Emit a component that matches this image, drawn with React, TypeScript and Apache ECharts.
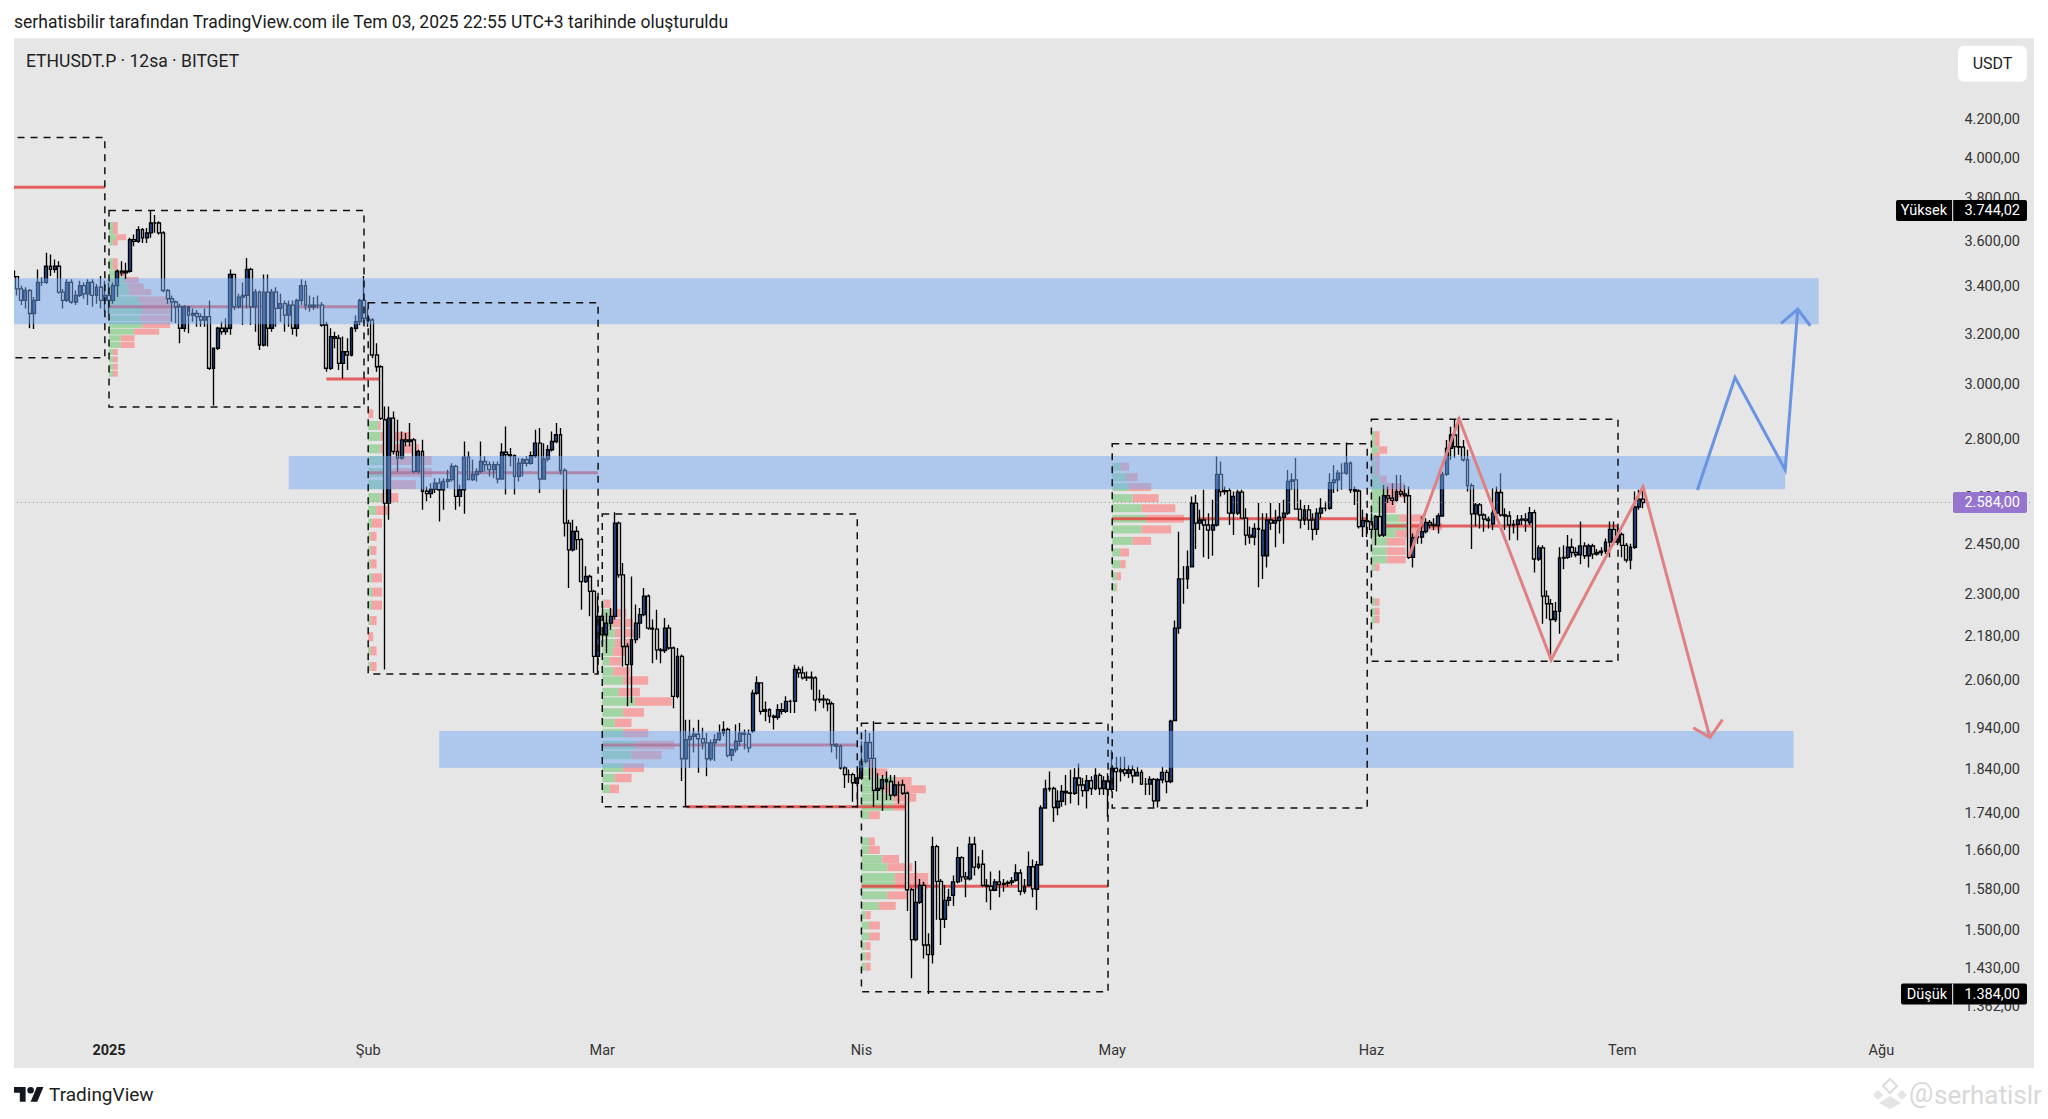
import React, { useEffect, useRef } from "react";
import * as echarts from "echarts";

// [open, close, low, high] of each 12h candle, by month
const candlesDec: number[][] = [
[3466,3442,3431,3555],[3442,3389,3361,3445],[3389,3340,3320,3403],[3340,3382,3306,3396],[3382,3285,3224,3389],[3285,3340,3221,3354],[3340,3417,3340,3474],[3417,3417,3403,3438],[3417,3488,3410,3548],[3488,3474,3445,3540],[3474,3488,3459,3518],[3488,3375,3368,3510],[3375,3340,3306,3389],[3340,3417,3333,3431],[3417,3333,3326,3431],[3333,3361,3320,3382],[3361,3403,3354,3424],[3403,3368,3347,3417],[3368,3417,3320,3431],[3417,3361,3313,3431],[3361,3396,3326,3410],[3396,3340,3306,3445],[3340,3361,3292,3424],
];
const candlesJan: number[][] = [
[3361,3340,3285,3417],[3340,3403,3326,3417],[3403,3466,3354,3474],[3466,3459,3445,3510],[3459,3466,3431,3503],[3466,3608,3459,3616],[3608,3600,3578,3631],[3600,3654,3593,3670],[3654,3616,3593,3662],[3616,3639,3593,3662],[3639,3685,3616,3744],[3685,3685,3639,3722],[3685,3639,3631,3693],[3639,3382,3375,3647],[3382,3347,3326,3389],[3347,3333,3251,3361],[3333,3313,3244,3340],[3313,3224,3163,3326],[3224,3313,3210,3320],[3313,3278,3203,3292],[3278,3285,3251,3306],[3285,3272,3230,3299],[3272,3258,3230,3285],[3258,3272,3230,3306],[3272,3064,3057,3340],[3064,3143,2923,3143],[3143,3224,3136,3230],[3224,3210,3197,3251],[3210,3224,3197,3265],[3224,3452,3197,3474],[3452,3313,3299,3452],[3313,3354,3306,3368],[3354,3361,3237,3417],[3361,3474,3306,3525],[3474,3313,3237,3481],[3313,3375,3210,3389],[3375,3156,3136,3382],[3156,3375,3150,3452],[3375,3224,3150,3452],[3224,3375,3210,3389],[3375,3306,3230,3396],[3306,3326,3251,3368],[3326,3278,3210,3340],[3278,3320,3230,3340],[3320,3224,3197,3340],[3224,3340,3190,3347],[3340,3403,3320,3431],[3403,3320,3299,3424],[3320,3313,3292,3361],[3313,3320,3299,3354],[3320,3320,3306,3361],[3320,3237,3230,3333],[3237,3064,3051,3251],[3064,3190,3057,3224],[3190,3183,3143,3210],[3183,3083,3057,3197],[3083,3129,3025,3190],[3129,3116,3057,3183],[3116,3224,3110,3230],[3224,3251,3210,3278],[3251,3340,3237,3347],[3340,3265,3244,3445],
];
const candlesFeb: number[][] = [
[3265,3258,3230,3306],[3258,3116,3103,3265],[3116,3070,3051,3163],[3070,2875,2869,3076],[2870,2582,2090,2919],[2582,2876,2528,2919],[2876,2757,2746,2900],[2757,2734,2688,2870],[2734,2798,2728,2828],[2798,2792,2775,2822],[2792,2798,2775,2858],[2798,2688,2682,2804],[2688,2757,2682,2763],[2757,2621,2560,2798],[2621,2613,2588,2637],[2613,2628,2599,2648],[2628,2648,2615,2665],[2648,2626,2522,2665],[2626,2654,2560,2665],[2654,2660,2632,2694],[2660,2705,2654,2716],[2705,2604,2560,2711],[2604,2626,2571,2643],[2626,2737,2547,2792],[2737,2660,2660,2757],[2660,2677,2655,2728],[2677,2688,2654,2699],[2688,2722,2682,2792],[2722,2711,2688,2740],[2711,2694,2671,2722],[2694,2711,2665,2722],[2711,2662,2648,2722],[2662,2754,2660,2786],[2754,2746,2610,2846],[2746,2742,2705,2769],[2742,2671,2610,2746],[2671,2716,2654,2734],[2716,2728,2671,2734],[2728,2716,2705,2740],[2716,2742,2711,2757],[2742,2786,2734,2834],[2786,2662,2615,2840],[2662,2730,2660,2786],[2730,2763,2722,2780],[2763,2792,2757,2828],[2792,2816,2786,2858],[2816,2691,2677,2840],[2691,2517,2475,2699],[2517,2433,2318,2528],[2433,2491,2428,2528],[2491,2465,2433,2507],[2465,2337,2255,2470],[2337,2352,2333,2383],[2352,2308,2236,2357],[2308,2125,2081,2313],[2125,2236,2081,2294],
];
const candlesMar: number[][] = [
[2236,2184,2157,2274],[2184,2217,2134,2246],[2217,2236,2198,2260],[2236,2517,2227,2552],[2517,2357,2348,2522],[2357,2152,2098,2393],[2152,2103,1995,2161],[2103,2171,2003,2352],[2171,2217,2161,2270],[2217,2241,2175,2260],[2241,2294,2236,2318],[2294,2203,2198,2299],[2203,2200,2107,2227],[2200,2143,2116,2255],[2143,2141,2107,2148],[2141,2203,2134,2231],[2203,2148,2143,2212],[2148,2020,1990,2152],[2020,2125,2015,2148],[2125,1866,1814,2130],[1866,1912,1757,1961],[1912,1920,1845,1961],[1920,1925,1881,1941],[1925,1914,1833,1961],[1914,1904,1888,1941],[1904,1866,1825,1928],[1866,1904,1861,1912],[1904,1912,1861,1925],[1912,1928,1908,1949],[1928,1937,1920,1957],[1937,1874,1869,1941],[1874,1888,1861,1892],[1888,1908,1881,1949],[1908,1928,1896,1953],[1928,1925,1888,1937],[1925,1892,1881,1937],[1933,2028,1928,2037],[2028,2055,2024,2072],[2055,1982,1974,2055],[1982,1986,1957,2007],[1986,1970,1953,1990],[1970,1967,1937,1974],[1967,1986,1961,2000],[1986,1982,1974,2003],[1982,2007,1978,2020],[2007,2007,1978,2011],[2007,2090,1978,2103],[2090,2081,2068,2098],[2081,2068,2064,2098],[2068,2070,2060,2085],[2070,2068,2037,2085],[2068,2011,1982,2072],[2011,2013,2003,2037],[2013,2011,1990,2024],[2011,2001,1982,2015],[2001,1900,1881,2007],[1900,1896,1865,1904],[1896,1845,1841,1900],[1845,1829,1798,1849],[1829,1829,1810,1841],[1829,1810,1767,1833],[1809,1821,1754,1832],
];
const candlesApr: number[][] = [
[1821,1860,1817,1908],[1860,1905,1855,1936],[1905,1867,1817,1928],[1867,1793,1756,1957],[1793,1797,1771,1832],[1797,1817,1747,1828],[1817,1813,1771,1836],[1813,1782,1771,1828],[1782,1805,1778,1828],[1805,1805,1763,1813],[1805,1786,1782,1817],[1786,1580,1538,1790],[1580,1483,1412,1584],[1483,1555,1480,1639],[1555,1589,1552,1602],[1589,1473,1448,1596],[1473,1455,1384,1495],[1455,1669,1439,1690],[1669,1597,1521,1673],[1597,1522,1473,1602],[1522,1559,1505,1589],[1559,1565,1548,1582],[1569,1596,1548,1609],[1596,1646,1593,1669],[1646,1606,1596,1649],[1606,1602,1565,1616],[1602,1674,1599,1690],[1674,1626,1609,1690],[1626,1632,1622,1649],[1632,1589,1586,1662],[1589,1587,1555,1602],[1587,1579,1540,1617],[1579,1596,1577,1602],[1596,1591,1565,1619],[1591,1593,1576,1602],[1593,1595,1586,1599],[1595,1598,1589,1606],[1599,1614,1596,1632],[1614,1577,1569,1622],[1577,1586,1572,1602],[1589,1627,1586,1659],[1627,1582,1565,1642],[1581,1631,1540,1639],[1631,1753,1629,1759],[1753,1796,1752,1817],[1796,1797,1790,1836],[1797,1754,1722,1801],[1754,1768,1737,1793],[1768,1790,1756,1805],[1790,1787,1759,1828],[1787,1786,1763,1840],[1786,1821,1782,1844],[1821,1805,1759,1855],[1805,1792,1778,1821],[1792,1815,1752,1828],[1815,1797,1782,1825],[1797,1827,1793,1844],[1827,1797,1782,1832],[1797,1814,1782,1825],[1814,1795,1733,1832],
];
const candlesMay: number[][] = [
[1795,1844,1790,1887],[1844,1836,1790,1871],[1836,1840,1813,1871],[1840,1832,1825,1871],[1832,1840,1821,1851],[1840,1826,1809,1851],[1826,1834,1825,1847],[1834,1807,1805,1840],[1807,1807,1782,1821],[1807,1818,1782,1825],[1818,1769,1754,1821],[1769,1817,1754,1821],[1817,1834,1809,1847],[1834,1813,1786,1840],[1813,1957,1809,1961],[1959,2203,1957,2224],[2203,2345,2187,2490],[2345,2345,2272,2384],[2345,2381,2315,2431],[2381,2582,2379,2604],[2582,2517,2436,2609],[2517,2527,2495,2560],[2527,2511,2410,2626],[2511,2495,2405,2549],[2495,2511,2415,2593],[2511,2678,2506,2739],[2678,2620,2604,2722],[2620,2623,2609,2637],[2623,2549,2511,2631],[2549,2604,2479,2620],[2549,2618,2543,2626],[2618,2533,2533,2626],[2533,2479,2447,2565],[2479,2473,2452,2506],[2473,2500,2447,2517],[2500,2497,2320,2582],[2415,2495,2345,2549],[2415,2527,2379,2549],[2527,2517,2495,2582],[2517,2525,2441,2560],[2525,2536,2484,2582],[2536,2549,2452,2593],[2549,2654,2543,2693],[2654,2659,2626,2682],[2659,2562,2560,2734],[2562,2527,2500,2593],[2527,2560,2511,2576],[2560,2527,2495,2576],[2527,2497,2463,2549],[2497,2549,2479,2565],[2549,2565,2533,2598],[2565,2565,2555,2587],[2565,2650,2560,2682],[2650,2659,2615,2710],[2659,2682,2620,2693],[2682,2682,2626,2716],[2682,2716,2676,2788],[2716,2626,2615,2722],[2626,2622,2576,2637],[2622,2506,2500,2628],[2506,2525,2473,2560],[2525,2522,2473,2549],
];
const candlesJun: number[][] = [
[2522,2497,2484,2549],[2497,2538,2447,2543],[2538,2479,2473,2604],[2479,2606,2473,2642],[2606,2598,2582,2637],[2598,2591,2576,2648],[2591,2620,2587,2676],[2620,2612,2604,2676],[2612,2606,2582,2642],[2606,2410,2405,2637],[2410,2471,2379,2484],[2471,2473,2452,2495],[2473,2490,2452,2538],[2490,2519,2484,2533],[2519,2511,2500,2527],[2511,2509,2495,2533],[2509,2540,2484,2549],[2540,2678,2538,2687],[2678,2768,2672,2797],[2768,2815,2728,2845],[2815,2774,2734,2869],[2774,2772,2745,2879],[2772,2728,2722,2797],[2728,2640,2620,2763],[2640,2547,2436,2648],[2547,2576,2506,2582],[2576,2543,2500,2582],[2543,2530,2490,2549],[2530,2525,2500,2538],[2515,2549,2495,2631],[2549,2617,2543,2637],[2617,2543,2538,2682],[2543,2540,2495,2565],[2540,2511,2463,2555],[2511,2513,2484,2527],[2513,2527,2463,2543],[2527,2530,2511,2543],[2530,2525,2490,2549],[2519,2551,2511,2569],[2551,2405,2364,2560],[2405,2439,2399,2447],[2439,2294,2215,2447],[2294,2272,2229,2311],[2272,2227,2116,2286],[2227,2250,2220,2277],[2250,2408,2187,2441],[2408,2410,2374,2447],[2410,2441,2405,2479],[2441,2425,2410,2468],[2425,2418,2410,2441],[2418,2445,2389,2522],[2445,2415,2405,2457],[2415,2445,2379,2452],[2445,2420,2405,2452],[2420,2425,2415,2436],[2425,2429,2415,2441],[2429,2457,2420,2468],[2457,2497,2410,2522],[2497,2457,2447,2522],[2457,2481,2447,2506],
];
const candlesJul: number[][] = [
[2481,2447,2410,2487],[2447,2402,2394,2454],[2402,2441,2374,2452],[2441,2569,2436,2620],[2569,2595,2560,2626],[2595,2584,2565,2637],
];

const barCount = 484;
const yTicks = [4200,4000,3800,3600,3400,3200,3000,2800,2600,2450,2300,2180,2060,1940,1840,1740,1660,1580,1500,1430,1362];
const monthLabels: Record<string,string> = {"2025-01":"2025","2025-02":"Şub","2025-03":"Mar","2025-04":"Nis","2025-05":"May","2025-06":"Haz","2025-07":"Tem","2025-08":"Ağu"};
const lastPrice = 2584;
const extremes: [string, number][] = [["Yüksek",3744.02],["Düşük",1384]];

// supply / demand zones: [first bar, last bar, upper price, lower price]
const zones: number[][] = [[0,432,3435,3240],[66,424,2741,2628],[102,426,1933,1845]];
// dashed session boxes: [first bar, last bar, upper price, lower price]
const boxes: number[][] = [[-2,22,4107,3105],[23,84,3744,2917],[85,140,3330,2078],[141,202,2546,1756],[203,262,1952,1388],[263,324,2784,1753],[325,384,2872,2112]];
// point of control lines: [first bar, last bar, price]
const pocLines: number[][] = [[0,22,3856],[23,84,3313],[75,88,3023],[85,140,2683],[141,202,1899],[161,214,1756],[203,262,1587],[263,324,2531],[325,384,2508]];
// drawn paths: [bar, price]
const redPath: number[][] = [[334,2412],[346,2873],[368,2116],[390,2636],[406,1917]];
const redHead: number[][] = [[402,1941],[406,1917],[409,1961]];
const bluePath: number[][] = [[403,2625],[412,3028],[424,2693],[427,3303]];
const blueHead: number[][] = [[423,3244],[427,3303],[430,3234]];

// volume profile bins: [price, buy volume, sell volume]
const profile1: number[][] = [[3676,.95,1.14],[3648,.95,1.14],[3619,1.7,2.4],[3595,.95,1.14],[3510,.95,1.14],[3485,.95,1.14],[3456,1.7,2.4],[3428,3.8,3.3],[3400,4.5,3.8],[3375,4.7,5.4],[3344,6.9,6.8],[3320,7.9,6.8],[3295,7.9,6.8],[3265,7.3,7.4],[3237,8,6.6],[3210,6,6],[3183,2.8,3.3],[3156,2.8,3.3],[3128,.95,1.14],[3099,.95,1.14],[3070,.95,1.14],[3043,.95,1.14]];
const profile2: number[][] = [[2892,0,1.2],[2849,2.4,.6],[2810,2.9,7.3],[2766,2.9,9.3],[2725,3.8,11.4],[2684,3.8,11.5],[2643,3.8,7.6],[2600,3,4.2],[2558,1.9,3.2],[2517,.9,2.4],[2475,.6,1.4],[2431,.6,1.4],[2390,.6,1.4],[2348,.9,2.4],[2306,.9,2.4],[2268,.9,2.4],[2224,.6,1.4],[2179,0,1.2],[2140,.6,1.4],[2098,.6,1.4]];
const profile3: number[][] = [[2272,.5,1.5],[2245,2.2,3.6],[2217,2.6,4.8],[2189,3,4.8],[2161,3,4],[2138,2.6,3.2],[2112,1.8,2.8],[2085,2.6,4],[2061,5,6],[2031,4,5],[2007,7.8,8.8],[1979,5,5],[1953,3,4],[1928,5,6],[1899,8,9.2],[1875,7,7.2],[1845,5,5],[1821,3,4],[1796,1.8,2.2]];
const profile4: number[][] = [[1855,1.5,1.5],[1834,2.2,4],[1814,8,4],[1795,5.4,10],[1776,7.7,5.4],[1756,7.7,2.8],[1737,1.8,2.6],[1680,1.8,1.4],[1662,1.8,2.6],[1643,5,4],[1626,6.2,6],[1606,8,8],[1589,8,8],[1569,6.2,4.8],[1548,4.2,4],[1530,1,1.2],[1510,1.8,2.6],[1489,1.8,2.6],[1471,1,1.2],[1452,1,1.2],[1433,1,1.2]];
const profile5: number[][] = [[2704,1.9,2.1],[2668,3.3,2.8],[2635,4,5.3],[2598,4.9,6.2],[2565,7,8.1],[2531,8.1,9.1],[2497,7,7.1],[2461,4.9,4.4],[2425,1.9,2.1],[2389,1.9,1.3],[2353,1,1.1],[2320,1,.2]];
const profile6: number[][] = [[2815,.85,1.1],[2789,.85,1.1],[2762,1.7,2.1],[2739,.7,1.3],[2712,.85,1.1],[2686,.85,1.1],[2661,2,1.7],[2636,3.3,4.7],[2612,3.7,4.3],[2587,2.8,3],[2562,2.8,3],[2533,6.7,5.6],[2506,8.2,8.7],[2483,5.8,5.1],[2458,3.7,4.5],[2429,3.7,4.5],[2403,3.7,4.5],[2380,.85,1.1],[2277,.85,1.1],[2250,.85,1.1],[2227,.85,1.1]];
// first bar and bar thickness of each profile
const profileStarts: number[][] = [[23,6],[85,9],[141,8.5],[203,8],[263,8],[325,7.5]];

const FONT = "Roboto, sans-serif";
const priceText = (v: number) => {
  const [a, b] = v.toFixed(2).split(".");
  return a.replace(/\B(?=(\d{3})+$)/g, ".") + "," + b;
};

const logoPath = "M14 22H7V11H0V4h14v18zM28 22h-8l7.5-18h8L28 22zM24 8a4 4 0 1 1-8 0 4 4 0 0 1 8 0z";

export default function App() {
  const ref = useRef<HTMLDivElement>(null);
  useEffect(() => {
    document.body.style.margin = "0";
    document.body.style.background = "#fff";
    (echarts.graphic as any).registerShape("tvlogo", (echarts.graphic as any).extendPath(logoPath, {}));
    const chart = echarts.init(ref.current!, undefined, { renderer: "svg" });
    const candles = [...candlesDec, ...candlesJan, ...candlesFeb, ...candlesMar, ...candlesApr, ...candlesMay, ...candlesJun, ...candlesJul];
    const startMs = Date.UTC(2024, 11, 20, 12);
    const categories: string[] = [];
    for (let i = 0; i < barCount; i++) categories.push(new Date(startMs + i * 43200000).toISOString().slice(0, 13));
    const isMonthStart = (s: string) => s.endsWith("-01T00");
    const profileRows: number[][] = [];
    [profile1, profile2, profile3, profile4, profile5, profile6].forEach((bins, k) => {
      bins.forEach((b) => profileRows.push([profileStarts[k][0], b[0], b[1], b[2], profileStarts[k][1]]));
    });

    const lineSeries = (name: string, pts: number[][], color: string, width: number, z: number, dash?: number[]) => ({
      type: "custom", name, z, silent: true, clip: true, data: pts, encode: { x: 0, y: 1 },
      renderItem: (_p: any, api: any) => {
        if (_p.dataIndex !== 0) return null;
        const points = pts.map((q) => api.coord(q));
        return { type: "polyline", shape: { points }, style: { stroke: color, lineWidth: width, fill: "none", lineDash: dash, lineJoin: "miter" } };
      },
    });

    const option: any = {
      animation: false,
      backgroundColor: "#ffffff",
      grid: { show: true, left: 10.8, width: 4.18 * barCount, top: 38.3, height: 1029.7, backgroundColor: "#e6e6e6", borderWidth: 0 },
      xAxis: {
        type: "category", data: categories, boundaryGap: true,
        axisLine: { show: false }, axisTick: { show: false }, splitLine: { show: false },
        axisLabel: {
          inside: true, margin: 18, color: "#333", fontFamily: FONT, fontSize: 14.5, verticalAlign: "middle",
          interval: (_i: number, v: string) => isMonthStart(v),
          formatter: (v: string) => {
            const l = monthLabels[v.slice(0, 7)] || "";
            return l === "2025" ? "{b|2025}" : l;
          },
          rich: { b: { fontWeight: "bold", fontFamily: FONT, fontSize: 14.5, color: "#222" } },
        },
      },
      yAxis: {
        type: "log", logBase: 10, min: 1260, max: 4659, position: "right",
        axisLine: { show: false }, axisTick: { show: false }, splitLine: { show: false }, minorSplitLine: { show: false }, axisLabel: { show: false },
      },
      series: [
        {
          type: "custom", name: "profile", z: 1, silent: true, clip: true, data: profileRows, encode: { x: 0, y: 1 },
          renderItem: (_p: any, api: any) => {
            const pt = api.coord([api.value(0), api.value(1)]);
            const bw = api.size([1, 0])[0];
            const h = api.value(4);
            const g = api.value(2) * bw, s = api.value(3) * bw;
            return {
              type: "group",
              children: [
                { type: "rect", shape: { x: pt[0], y: pt[1] - h / 2, width: g, height: h }, style: { fill: "#a2d4a4" } },
                { type: "rect", shape: { x: pt[0] + g, y: pt[1] - h / 2, width: s, height: h }, style: { fill: "#f4a4a4" } },
              ],
            };
          },
        },
        {
          type: "custom", name: "poc", z: 2, silent: true, clip: true, data: pocLines, encode: { x: [0, 1], y: 2 },
          renderItem: (_p: any, api: any) => {
            const a = api.coord([api.value(0), api.value(2)]);
            const b = api.coord([api.value(1), api.value(2)]);
            return { type: "line", shape: { x1: a[0], y1: a[1], x2: b[0], y2: b[1] }, style: { stroke: "rgba(226,70,70,0.85)", lineWidth: 3 } };
          },
        },
        {
          type: "candlestick", name: "ETHUSDT.P", z: 3, silent: true, data: candles, barWidth: 3.4,
          itemStyle: { color: "#23498f", color0: "#e2e2e2", borderColor: "#000", borderColor0: "#000", borderWidth: 1.35 },
        },
        {
          type: "custom", name: "zones", z: 4, silent: true, clip: true, data: zones, encode: { x: [0, 1], y: [2, 3] },
          renderItem: (_p: any, api: any) => {
            const a = api.coord([api.value(0), api.value(2)]);
            const b = api.coord([api.value(1), api.value(3)]);
            return { type: "rect", shape: { x: a[0], y: a[1], width: b[0] - a[0], height: b[1] - a[1] }, style: { fill: "rgba(116,170,242,0.5)" } };
          },
        },
        {
          type: "custom", name: "boxes", z: 5, silent: true, clip: true, data: boxes, encode: { x: [0, 1], y: [2, 3] },
          renderItem: (_p: any, api: any) => {
            const a = api.coord([api.value(0), api.value(2)]);
            const b = api.coord([api.value(1), api.value(3)]);
            return { type: "rect", shape: { x: a[0], y: a[1], width: b[0] - a[0], height: b[1] - a[1] }, style: { fill: "none", stroke: "#111", lineWidth: 1.5, lineDash: [7, 6] } };
          },
        },
        lineSeries("last", [[0, lastPrice], [barCount - 1, lastPrice]], "#8a8a8a", 1, 5, [1, 3]),
        lineSeries("redPath", redPath, "#e08083", 3, 6),
        lineSeries("redHead", redHead, "#e08083", 3, 6),
        lineSeries("bluePath", bluePath, "#6a93e2", 3, 6),
        lineSeries("blueHead", blueHead, "#6a93e2", 3, 6),
        {
          type: "custom", name: "ticks", z: 7, silent: true, clip: false, data: yTicks.map((v) => [0, v]), encode: { x: 0, y: 1 },
          renderItem: (_p: any, api: any) => ({
            type: "text",
            style: { text: priceText(api.value(1)), x: 2020, y: api.coord([0, api.value(1)])[1], align: "right", verticalAlign: "middle", fill: "#333", font: `14.5px ${FONT}` },
          }),
        },
        {
          type: "custom", name: "extremes", z: 8, silent: true, clip: false, data: extremes.map((e) => [0, e[1]]), encode: { x: 0, y: 1 },
          renderItem: (p: any, api: any) => {
            const y = api.coord([0, api.value(1)])[1];
            const label = extremes[p.dataIndex][0];
            const w = label === "Yüksek" ? 131 : 126;
            return {
              type: "group",
              children: [
                { type: "rect", shape: { x: 2027 - w, y: y - 10.5, width: w, height: 21, r: 2 }, style: { fill: "#000" } },
                { type: "line", shape: { x1: 1952.7, y1: y - 10.5, x2: 1952.7, y2: y + 10.5 }, style: { stroke: "#fff", lineWidth: 1 } },
                { type: "text", style: { text: label, x: 1947, y, align: "right", verticalAlign: "middle", fill: "#fff", font: `14.5px ${FONT}` } },
                { type: "text", style: { text: priceText(api.value(1)), x: 2020, y, align: "right", verticalAlign: "middle", fill: "#fff", font: `14.5px ${FONT}` } },
              ],
            };
          },
        },
        {
          type: "custom", name: "lastLabel", z: 8, silent: true, clip: false, data: [[0, lastPrice]], encode: { x: 0, y: 1 },
          renderItem: (_p: any, api: any) => {
            const y = api.coord([0, api.value(1)])[1];
            return {
              type: "group",
              children: [
                { type: "rect", shape: { x: 1953, y: y - 10.5, width: 74, height: 21, r: 2 }, style: { fill: "#9575cd" } },
                { type: "text", style: { text: priceText(api.value(1)), x: 2020, y, align: "right", verticalAlign: "middle", fill: "#fff", font: `14.5px ${FONT}` } },
              ],
            };
          },
        },
      ],
      graphic: [
        { type: "rect", z: 100, shape: { x: 0, y: 0, width: 14, height: 1119 }, style: { fill: "#fff" } },
        { type: "text", z: 101, style: { text: "serhatisbilir tarafından TradingView.com ile Tem 03, 2025 22:55 UTC+3 tarihinde oluşturuldu", x: 14, y: 22, verticalAlign: "middle", fill: "#1a1a1a", font: `17.5px ${FONT}` } },
        { type: "text", z: 101, style: { text: "ETHUSDT.P · 12sa · BITGET", x: 26, y: 61, verticalAlign: "middle", fill: "#222", font: `17.5px ${FONT}` } },
        { type: "rect", z: 101, shape: { x: 1958, y: 45.7, width: 69, height: 36, r: 6 }, style: { fill: "#fff" } },
        { type: "text", z: 102, style: { text: "USDT", x: 1992.5, y: 63.5, align: "center", verticalAlign: "middle", fill: "#222", font: `16px ${FONT}` } },
        { type: "tvlogo", z: 101, x: 14, y: 1083.6, scaleX: 0.83, scaleY: 0.83, style: { fill: "#131722" } },
        { type: "text", z: 101, style: { text: "TradingView", x: 49, y: 1094, verticalAlign: "middle", fill: "#222", font: `19px ${FONT}` } },
        { type: "polygon", z: 101, shape: { points: [[1890, 1079], [1897, 1086], [1890, 1093], [1883, 1086]] }, style: { fill: "none", stroke: "#dcdcdc", lineWidth: 2 } },
        { type: "polygon", z: 101, shape: { points: [[1878, 1090], [1883, 1095], [1878, 1100], [1873, 1095]] }, style: { fill: "#e4e4e4" } },
        { type: "polygon", z: 101, shape: { points: [[1902, 1090], [1907, 1095], [1902, 1100], [1897, 1095]] }, style: { fill: "#e4e4e4" } },
        { type: "polygon", z: 101, shape: { points: [[1890, 1096], [1901, 1103], [1890, 1109], [1879, 1103]] }, style: { fill: "#e4e4e4" } },
        { type: "text", z: 101, style: { text: "@", x: 1909, y: 1093, verticalAlign: "middle", fill: "#d8d8d8", font: `27px ${FONT}` } },
        { type: "text", z: 101, style: { text: "serhatislr", x: 1934, y: 1095, verticalAlign: "middle", fill: "#d8d8d8", font: `26px ${FONT}` } },
      ],
    };
    chart.setOption(option);
    return () => chart.dispose();
  }, []);
  return <div ref={ref} style={{ position: "fixed", left: 0, top: 0, width: 2048, height: 1119 }} />;
}
